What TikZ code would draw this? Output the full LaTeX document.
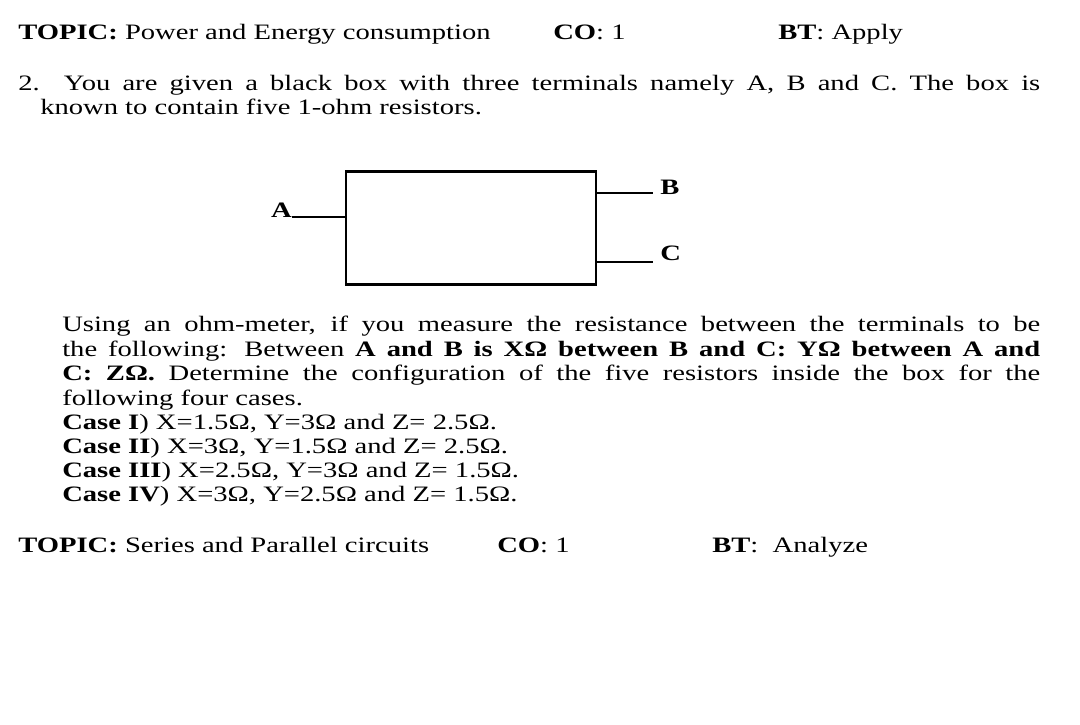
\documentclass[tikz,border=0pt]{standalone}
\usepackage{fontspec}
\setmainfont[FakeStretch=1.3]{Liberation Serif}
\newcommand{\jline}[2]{\makebox[#1][s]{#2}}
\begin{document}
\begin{tikzpicture}[x=0.75pt,y=-0.75pt,
    txt/.style={anchor=base west, inner sep=0pt, font=\fontsize{16.5}{18}\selectfont},
    lbl/.style={inner sep=0pt, font=\bfseries\fontsize{16.5}{18}\selectfont},
    wire/.style={line width=1.6pt}]
    \useasboundingbox (0,0) rectangle (1080,724);
    % heading
    \node[txt] (t1) at (18,40) {\textbf{TOPIC:} Power and Energy consumption};
    \node[txt] (co1) at (553,40) {\textbf{CO}: 1};
    \node[txt] (bt1) at (778,40) {\textbf{BT}: Apply};
    \node[txt] (q1) at (18,90) {\jline{766.5pt}{2.\ \ You are given a black box with three terminals namely A, B and C. The box is}};
    \node[txt] (q2) at (40,114) {known to contain five 1-ohm resistors.};
    % black box
    \node[draw, wire, minimum width=187.5pt, minimum height=84.75pt, inner sep=0pt] (box) at (471,228) {};
    \coordinate (a) at (292,217);
    \coordinate (b) at (653,193);
    \coordinate (c) at (653,262);
    \draw[wire] (a) -- (a -| box.west);
    \draw[wire] (b -| box.east) -- (b);
    \draw[wire] (c -| box.east) -- (c);
    \node[lbl, anchor=base east] (la) at (a) {A};
    \node[lbl, anchor=base west] (lb) at (660,194) {B};
    \node[lbl, anchor=base west] (lc) at (660,260) {C};
    % text below
    \node[txt] (p1) at (62,331) {\jline{733.5pt}{Using an ohm-meter, if you measure the resistance between the terminals to be}};
    \node[txt] (p2) at (62,356) {\jline{733.5pt}{the following: Between \textbf{A and B is XΩ between B and C: YΩ between A and}}};
    \node[txt] (p3) at (62,380) {\jline{733.5pt}{\textbf{C: ZΩ.} Determine the configuration of the five resistors inside the box for the}};
    \node[txt] (p4) at (62,405) {following four cases.};
    \node[txt] (c1) at (62,429) {\textbf{Case I}) X=1.5Ω, Y=3Ω and Z= 2.5Ω.};
    \node[txt] (c2) at (62,453) {\textbf{Case II}) X=3Ω, Y=1.5Ω and Z= 2.5Ω.};
    \node[txt] (c3) at (62,477) {\textbf{Case III}) X=2.5Ω, Y=3Ω and Z= 1.5Ω.};
    \node[txt] (c4) at (62,501) {\textbf{Case IV}) X=3Ω, Y=2.5Ω and Z= 1.5Ω.};
    % next heading
    \node[txt] (t2) at (18,552) {\textbf{TOPIC:} Series and Parallel circuits};
    \node[txt] (co2) at (497,552) {\textbf{CO}: 1};
    \node[txt] (bt2) at (712,552) {\textbf{BT}:\ \ Analyze};
\end{tikzpicture}
\end{document}
